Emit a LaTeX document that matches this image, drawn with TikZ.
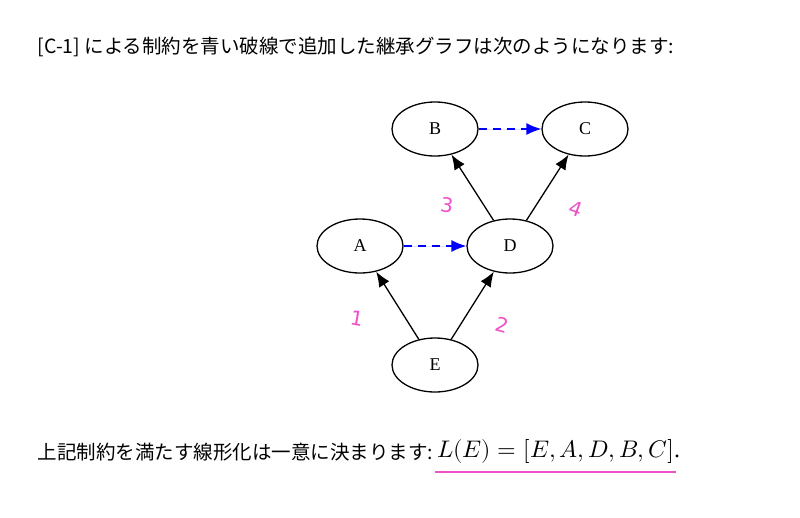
\documentclass[tikz,border=0pt]{standalone}
\usepackage{fontspec}
\usepackage{unicode-math}
\setmainfont{Liberation Serif}
\newfontfamily\cjk{Noto Sans CJK JP}
\newfontfamily\hand{DejaVu Sans}
\usetikzlibrary{shapes.geometric,arrows.meta}
\definecolor{pink}{RGB}{240,80,200}
\tikzset{
  nd/.style={draw,ellipse,line width=1.3pt,minimum width=86pt,minimum height=54pt,font=\fontsize{18}{18}\selectfont},
  ed/.style={line width=1.3pt,-{Latex[length=15pt,width=12pt]}},
  bd/.style={ed,draw=blue,fill=blue,dash pattern=on 8pt off 6pt},
  hw/.style={pink,font=\hand\fontsize{20}{20}\selectfont}
}
\begin{document}
\begin{tikzpicture}[x=1pt,y=-1pt]
\useasboundingbox[fill=white] (0,0) rectangle (800,517);
\node[anchor=west,font=\cjk\fontsize{19.5}{19.5}\selectfont] (t1) at (34,47) {[C-1] による制約を青い破線で追加した継承グラフは次のようになります:};
\node[nd] (B) at (435,129) {B};
\node[nd] (C) at (585,129) {C};
\node[nd] (A) at (360,246) {A};
\node[nd] (D) at (510,246) {D};
\node[nd] (E) at (435,365) {E};
\draw[bd] (B) -- (C);
\draw[bd] (A) -- (D);
\draw[ed] (D) -- (B);
\draw[ed] (D) -- (C);
\draw[ed] (E) -- (A);
\draw[ed] (E) -- (D);
\node[hw,rotate=-8] (n3) at (447,205) {3};
\node[hw,rotate=-20] (n4) at (576,209) {4};
\node[hw,rotate=-10] (n1) at (357,318) {1};
\node[hw,rotate=-15] (n2) at (502,325) {2};
\node[anchor=west,font=\cjk\fontsize{19.5}{19.5}\selectfont] (t2) at (34,452) {上記制約を満たす線形化は一意に決まります:};
\node[anchor=west,font=\fontsize{24}{24}\selectfont,inner sep=0pt] (m) at (437,451) {$L(E)=[E,A,D,B,C]$.};
\coordinate (u1) at (435,472);
\coordinate (u2) at (676,472);
\draw[pink,line width=1.5pt] (u1) -- (u2);
\end{tikzpicture}
\end{document}
